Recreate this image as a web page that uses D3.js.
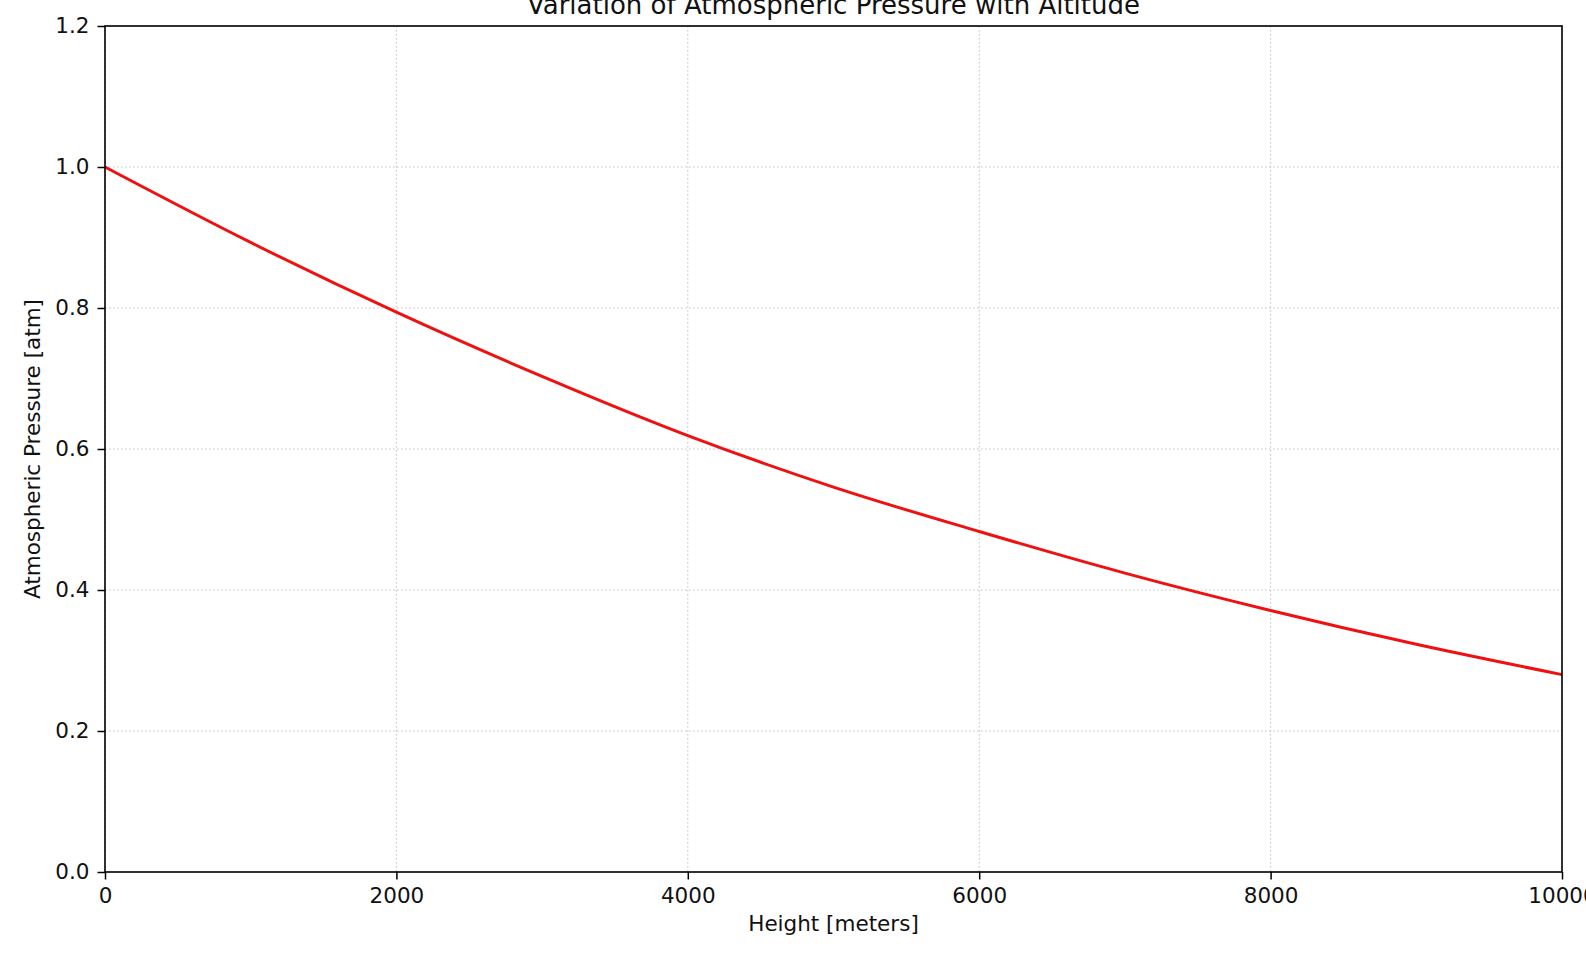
<!DOCTYPE html>
<html>
<head>
<meta charset="utf-8">
<script src="https://cdn.jsdelivr.net/npm/d3@7"></script>
<style>
  body { margin: 0; background: #fff; overflow: hidden; }
  svg { display: block; font-family: "DejaVu Sans", sans-serif; }
</style>
</head>
<body>
<div id="chart"></div>
<script>
// Values
var heights = [0, 1000, 2000, 3000, 4000, 5000, 6000, 7000, 8000, 9000, 10000];
var pressures = [1.0, 0.893, 0.794, 0.703, 0.619, 0.546, 0.483, 0.424, 0.371, 0.323, 0.280];
var xTicks = [0, 2000, 4000, 6000, 8000, 10000];
var yTicks = [0.0, 0.2, 0.4, 0.6, 0.8, 1.0, 1.2];

var svgWidth = 1586, svgHeight = 971;
var margin = { top: 26, right: 24, bottom: 99, left: 105 };
var chartWidth = svgWidth - margin.left - margin.right;
var chartHeight = svgHeight - margin.top - margin.bottom;

var svg = d3.select("#chart").append("svg")
  .attr("width", svgWidth)
  .attr("height", svgHeight);

var chartGroup = svg.append("g")
  .attr("transform", `translate(${margin.left}, ${margin.top})`);

var xScale = d3.scaleLinear().domain([0, 10000]).range([0, chartWidth]);
var yScale = d3.scaleLinear().domain([0, 1.2]).range([chartHeight, 0]);

// grid (dotted)
chartGroup.append("g")
  .selectAll("line.vgrid")
  .data(xTicks)
  .enter().append("line")
  .attr("x1", d => xScale(d)).attr("x2", d => xScale(d))
  .attr("y1", 0).attr("y2", chartHeight)
  .attr("stroke", "#c4c4c4").attr("stroke-width", 1.1)
  .attr("stroke-dasharray", "1.6,2.4");

chartGroup.append("g")
  .selectAll("line.hgrid")
  .data(yTicks)
  .enter().append("line")
  .attr("x1", 0).attr("x2", chartWidth)
  .attr("y1", d => yScale(d)).attr("y2", d => yScale(d))
  .attr("stroke", "#c4c4c4").attr("stroke-width", 1.1)
  .attr("stroke-dasharray", "1.6,2.4");

// the curve
var points = heights.map((h, i) => ({ h: h, p: pressures[i] }));
var line = d3.line()
  .x(d => xScale(d.h))
  .y(d => yScale(d.p))
  .curve(d3.curveCatmullRom.alpha(0.5));

chartGroup.append("path")
  .datum(points)
  .attr("d", line)
  .attr("fill", "none")
  .attr("stroke", "#ee1111")
  .attr("stroke-width", 3);

// axes
var bottomAxis = d3.axisBottom(xScale)
  .tickValues(xTicks).tickFormat(d3.format("d"))
  .tickSizeInner(7.5).tickSizeOuter(0).tickPadding(8);
var leftAxis = d3.axisLeft(yScale)
  .tickValues(yTicks).tickFormat(d3.format(".1f"))
  .tickSizeInner(7.5).tickSizeOuter(0).tickPadding(8);

var xAxis = chartGroup.append("g")
  .attr("transform", `translate(0, ${chartHeight})`)
  .call(bottomAxis);
var yAxis = chartGroup.append("g").call(leftAxis);

[xAxis, yAxis].forEach(ax => {
  ax.select(".domain").remove();
  ax.selectAll(".tick line").attr("stroke", "#000").attr("stroke-width", 1.5);
  ax.selectAll(".tick text")
    .attr("fill", "#111")
    .style("font-family", "'DejaVu Sans', sans-serif")
    .style("font-size", "21.5px");
});

// frame
chartGroup.append("rect")
  .attr("x", 0).attr("y", 0)
  .attr("width", chartWidth).attr("height", chartHeight)
  .attr("fill", "none").attr("stroke", "#000").attr("stroke-width", 1.6);

// labels
svg.append("text")
  .attr("x", margin.left + chartWidth / 2)
  .attr("y", 14)
  .attr("text-anchor", "middle")
  .attr("fill", "#111")
  .style("font-size", "26px")
  .text("Variation of Atmospheric Pressure with Altitude");

svg.append("text")
  .attr("x", margin.left + chartWidth / 2)
  .attr("y", 931)
  .attr("text-anchor", "middle")
  .attr("fill", "#111")
  .style("font-size", "21.5px")
  .text("Height [meters]");

svg.append("text")
  .attr("transform", `translate(39.5, ${margin.top + chartHeight / 2}) rotate(-90)`)
  .attr("text-anchor", "middle")
  .attr("fill", "#111")
  .style("font-size", "21.5px")
  .text("Atmospheric Pressure [atm]");
</script>
</body>
</html>
